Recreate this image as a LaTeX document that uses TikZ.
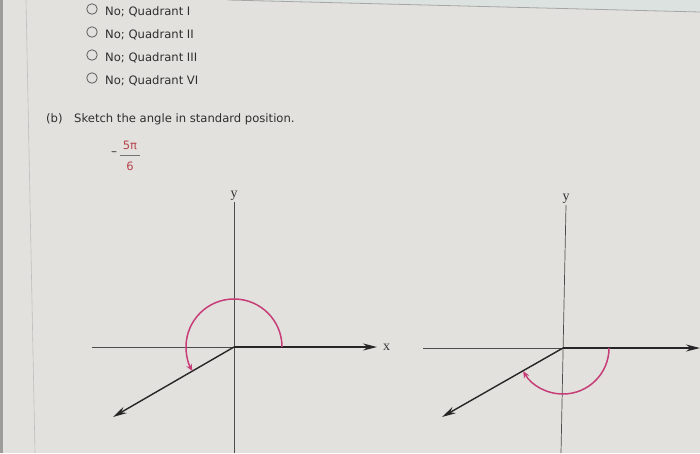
\documentclass[tikz,border=0pt]{standalone}
\usepackage{fontspec}
\setmainfont{DejaVu Sans}
\newfontfamily\labelfont{Liberation Serif}
\usepackage{tikz}
\usetikzlibrary{arrows, arrows.meta}
\usetikzlibrary{positioning, calc}

\definecolor{bggray}{HTML}{E3E1DD}
\definecolor{topgray}{HTML}{DCE2DF}
\definecolor{edgegray}{HTML}{9C9C9A}
\definecolor{txtgray}{HTML}{2E2E2E}
\definecolor{radiogray}{HTML}{5E5E5E}
\definecolor{fracred}{HTML}{B5444F}
\definecolor{arcpink}{HTML}{C63D78}

\begin{document}
\begin{tikzpicture}[x=1pt,y=-1pt,>=stealth',
  opt node/.style={anchor=base west,inner sep=0pt,text=txtgray,font=\fontsize{11.6}{13}\selectfont},
  radio/.style={circle,draw=radiogray,line width=0.8pt,minimum size=10.5pt,inner sep=0pt},
  frac node/.style={inner sep=0.5pt,text=fracred,font=\fontsize{11.5}{12}\selectfont},
  thin axis/.style={draw=black!70,line width=0.7pt},
  thick axis/.style={draw=black!85,line width=1.4pt,-{Stealth[length=14pt,width=7pt]}},
  angle arc/.style={draw=arcpink,line width=1.5pt,-{Stealth[length=7pt,width=6pt]}},
  lab node/.style={inner sep=1pt,text=black!80,font=\labelfont\fontsize{14}{15}\selectfont}]
  \useasboundingbox (0,0) rectangle (700,453);
  % page
  \fill[bggray] (0,0) rectangle (700,453);
  \fill[topgray] (228,0) -- (700,0) -- (700,12) -- cycle;
  \draw[black!35,line width=0.8pt] (228,0) -- (700,12);
  \fill[edgegray] (0,0) rectangle (3,453);
  \draw[black!25,line width=0.6pt] (26,0) -- (35,453);

  % answer choices
  \node[radio] (r1) at (92,9) {};
  \node[radio] (r2) at (92,32) {};
  \node[radio] (r3) at (92,55) {};
  \node[radio] (r4) at (92,78) {};
  \node[opt node] (q1) at (105,15) {No; Quadrant I};
  \node[opt node] (q2) at (105,38) {No; Quadrant II};
  \node[opt node] (q3) at (105,61) {No; Quadrant III};
  \node[opt node] (q4) at (105,84) {No; Quadrant VI};

  % part (b)
  \node[opt node] (b) at (46,122) {(b)};
  \node[opt node] (task) at (74,122) {Sketch the angle in standard position.};
  \node[frac node] (num) at (130,145) {5π};
  \node[frac node] (den) at (130,166) {6};
  \coordinate (bar) at ($(num.south)!0.5!(den.north)$);
  \node[inner sep=0pt,text=txtgray,font=\fontsize{12}{12}\selectfont] (minus) at (114,154) {–};
  \draw[black!55,line width=0.6pt] ([xshift=-10pt]bar) -- ([xshift=10pt]bar);

  % first sketch
  \coordinate (o1) at (234,347);
  \coordinate (xl1) at (92,347);
  \coordinate (xr1) at (377,347);
  \coordinate (yt1) at (234,202);
  \coordinate (yb1) at (234,453);
  \coordinate (t1) at (113,417);
  \draw[thin axis] (xl1) -- (o1);
  \draw[thin axis] (yt1) -- (yb1);
  \draw[thick axis] (o1) -- (xr1);
  \draw[thick axis] (o1) -- (t1);
  \node[lab node, above=0pt of yt1] (ylab1) {y};
  \node[lab node, right=5pt of xr1] (xlab1) {x};
  \draw[angle arc] ($(o1)+(48,0)$) arc[start angle=0, end angle=-210, radius=48];

  % second sketch
  \coordinate (o2) at (563,348);
  \coordinate (xl2) at (423,348);
  \coordinate (xr2) at (700,348);
  \coordinate (yt2) at (566,205);
  \coordinate (yb2) at (561,453);
  \coordinate (t2) at (442,417);
  \draw[thin axis] (xl2) -- (o2);
  \draw[thin axis] (yt2) -- (yb2);
  \draw[thick axis] (o2) -- (xr2);
  \draw[thick axis] (o2) -- (t2);
  \node[lab node, above=0pt of yt2] (ylab2) {y};
  \draw[angle arc] ($(o2)+(46,0)$) arc[start angle=0, end angle=150, radius=46];
\end{tikzpicture}
\end{document}
